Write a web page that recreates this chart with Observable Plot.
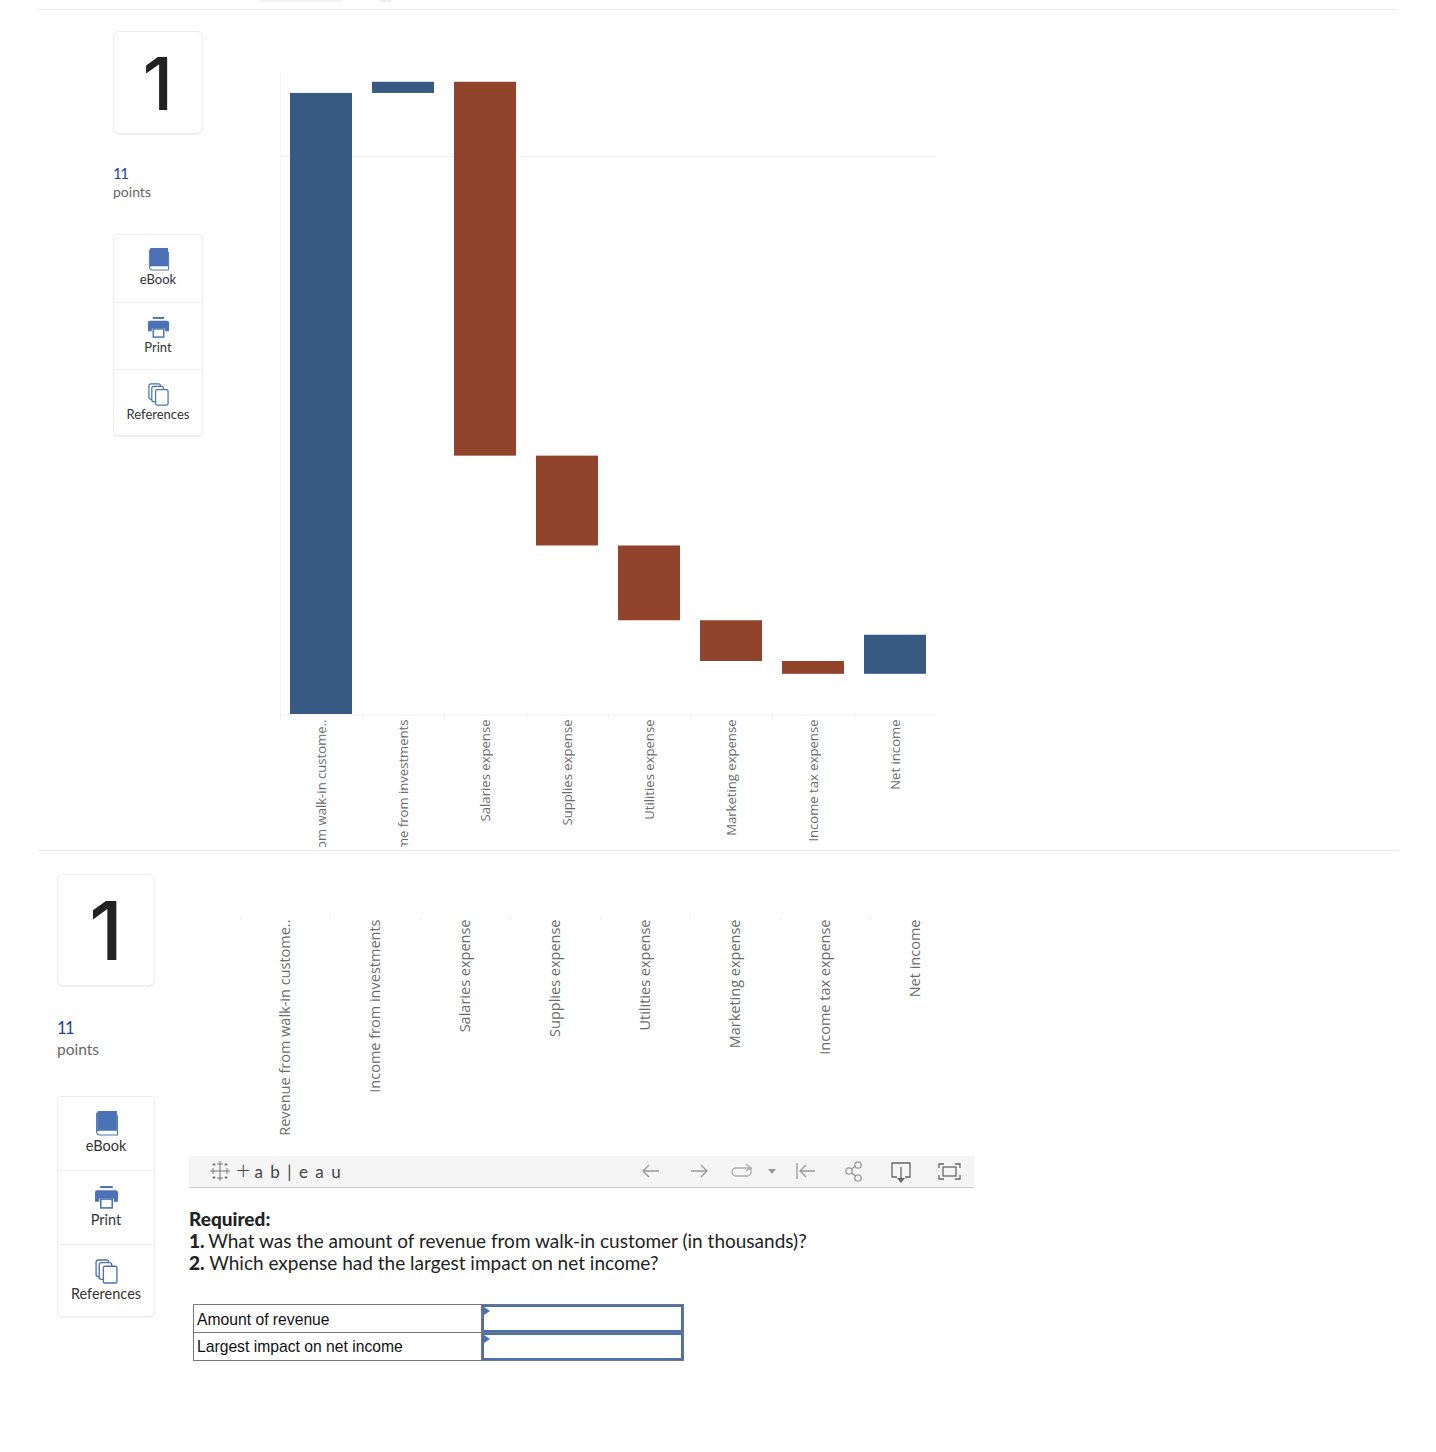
<!DOCTYPE html>
<html>
<head>
<meta charset="utf-8">
<script src="https://cdn.jsdelivr.net/npm/d3@7"></script>
<script src="https://cdn.jsdelivr.net/npm/@observablehq/plot@0.6"></script>
<style>
  html, body { margin: 0; padding: 0; background: #fff; }
  body { position: relative; width: 1436px; height: 1452px; overflow: hidden; font-family: Lato, sans-serif; color: #222; }
  .abs { position: absolute; }
  .hr { position: absolute; left: 38px; width: 1360px; height: 1px; background: #ececec; }
  .card { position: absolute; box-sizing: border-box; background: #fff; border: 1px solid #eee; border-radius: 6px; box-shadow: 0 1px 1px #f2f2f2; text-align: center; }
  .tools { position: absolute; box-sizing: border-box; border: 1px solid #eee; border-radius: 4px; box-shadow: 0 1px 1px #f2f2f2; }
  .tool { position: absolute; left: 0; width: 100%; text-align: center; color: #333; }
  .tool + .tool { border-top: 1px solid #eee; }
  .tool svg { display: block; margin: 0 auto; }
  #req { position: absolute; left: 189px; top: 1208px; font-size: 19px; line-height: 22px; color: #222; }
  #req b { font-weight: 900; }
  #req i { font-style: normal; margin-left: -1px; }
  #tbl { position: absolute; left: 193px; top: 1304px; width: 491px; height: 57px; box-sizing: border-box; border: 1px solid #777; font-family: "Liberation Sans", sans-serif; font-size: 15.7px; color: #111; }
  .cellL { position: absolute; left: 3px; }
  .cellR { position: absolute; left: 288px; width: 201px; height: 27px; box-sizing: border-box; border: 2px solid #4a70ad; }
  .cellR::before { content: ""; position: absolute; left: 0; top: 0; border-left: 6px solid #4a70ad; border-top: 4px solid transparent; border-bottom: 4px solid transparent; }
</style>
</head>
<body>
<div id="chrome"></div>
<div id="chart1" class="abs" style="left:0;top:0"></div>
<div id="chart2" class="abs" style="left:0;top:900px"></div>
<script>
// bars of the waterfall (gridline = 1000)
const categories = ["Revenue from walk-in custome..", "Income from investments", "Salaries expense", "Supplies expense", "Utilities expense", "Marketing expense", "Income tax expense", "Net income"]
const barFrom = [0, 1113, 1133, 463, 302, 168, 95, 72]
const barTo = [1113, 1133, 463, 302, 168, 95, 72, 142]
const barKind = ["gain", "gain", "loss", "loss", "loss", "loss", "loss", "gain"]
const gridValues = [1000]

const bars = categories.map((c, i) => ({ category: c, from: barFrom[i], to: barTo[i], kind: barKind[i] }))

const chart = Plot.plot({
  width: 1436,
  height: 847,
  marginLeft: 280,
  marginRight: 500,
  marginTop: 72,
  marginBottom: 133,
  style: { fontFamily: "Open Sans", background: "transparent" },
  x: { type: "band", domain: categories, paddingInner: 0.25, paddingOuter: 0.125 },
  y: { domain: [0, 1150.5], axis: null },
  color: { domain: ["gain", "loss"], range: ["#375a85", "#91432b"] },
  marks: [
    Plot.ruleY(gridValues, { stroke: "#f1f1f1" }),
    Plot.ruleY([0], { stroke: "#f1f1f1", dy: 0.5 }),
    Plot.frame({ anchor: "left", stroke: "#f6f6f6" }),
    Plot.barY(bars, { x: "category", y1: "from", y2: "to", fill: "kind" }),
    Plot.axisX({ tickSize: 5, tickFormat: () => "", dx: -41, stroke: "#eeeeee", label: null }),
    Plot.axisX({ tickSize: 0, tickRotate: -90, tickPadding: 5, fontSize: 13.1, fill: "#6b6b6b", label: null })
  ]
})
document.getElementById("chart1").append(chart)

// the second screenshot only shows the axis of the same chart
const axisOnly = Plot.plot({
  width: 1436,
  height: 240,
  marginLeft: 240,
  marginRight: 476,
  marginTop: 17,
  marginBottom: 223,
  style: { fontFamily: "Open Sans", background: "transparent" },
  x: { type: "band", domain: categories, paddingInner: 0.25, paddingOuter: 0.125 },
  marks: [
    Plot.axisX({ tickSize: 3, tickFormat: () => "", dx: -45, stroke: "#eeeeee", label: null }),
    Plot.axisX({ tickSize: 0, tickRotate: -90, tickPadding: 2, fontSize: 14.5, fill: "#6b6b6b", label: null })
  ]
})
document.getElementById("chart2").append(axisOnly)

// page furniture around the chart
const blue = "#4a72b5"
const book = s => `<svg width="${s}" height="${s}" viewBox="0 0 24 24"><path d="M4 0h18v19H5.5A3 3 0 0 0 3 20V1z" fill="${blue}"/><path d="M2.500 2v18a3 3 0 0 0 3 3h17V4" fill="none" stroke="${blue}" stroke-width="1"/></svg>`
const printer = s => `<svg width="${s}" height="${s}" viewBox="0 0 24 24"><rect x="6" y="1" width="12" height="2" fill="${blue}"/><path d="M3 5h18a2 2 0 0 1 2 2v9h-4v-3H5v3H1V7a2 2 0 0 1 2-2z" fill="${blue}"/><rect x="6.500" y="13.500" width="11" height="8.500" fill="#fff" stroke="${blue}" stroke-width="1.500"/></svg>`
const pages = s => `<svg width="${s}" height="${s}" viewBox="0 0 24 24" fill="#fff" stroke="${blue}" stroke-width="1.300"><rect x="2" y="1" width="12" height="16" rx="2"/><rect x="5" y="3.500" width="12" height="16" rx="2"/><rect x="9" y="7" width="13" height="16" rx="1.500"/></svg>`

function sidebar(o) {
  const items = [["eBook", book], ["Print", printer], ["References", pages]]
  const rows = items.map(([name, icon], i) =>
    `<div class="tool" style="top:${i * o.row}px;height:${o.row}px;font-size:${o.fs}px;padding-top:${o.pad}px;box-sizing:border-box">${icon(o.icon)}<div style="margin-top:${o.gap}px">${name}</div></div>`).join("")
  return `<div class="card" style="left:${o.x}px;top:${o.y}px;width:${o.w}px;height:${o.h}px;font:500 ${o.num}px/${o.h + 1}px Inter,sans-serif;color:#222">1</div>
  <div class="abs" style="left:${o.x}px;top:${o.py}px;font-size:${o.pfs}px;line-height:${o.pl}px;color:#666"><span style="color:#1d4294;letter-spacing:-1.500px;font-size:${o.pfs + 1}px">11</span><br>points</div>
  <div class="tools" style="left:${o.x}px;top:${o.ty}px;width:${o.w}px;height:${o.row * 3 + 1}px">${rows}</div>`
}

const toolbar = `<div class="abs" style="left:189px;top:1156px;width:785px;height:31px;background:#f5f5f5;border-bottom:1.500px solid #ccc"></div>
<svg class="abs" style="left:189px;top:1156px" width="785" height="32" fill="none" stroke="#999" stroke-width="1.300">
  <path d="M31 5v6M28 8h6M31 19v6M28 22h6M24 12v6M21 15h6M38 12v6M35 15h6M31 11v8M27 15h8M25 7v3M23.500 8.500h3M37 7v3M35.500 8.500h3M25 20v3M23.500 21.500h3M37 20v3M35.500 21.500h3" stroke="#777" stroke-width="1"/>
  <path d="M470 15h-16M460 9l-6 6 6 6M518 15h-16M512 9l6 6-6 6"/>
  <path d="M562 12h-15a4 4 0 0 0 0 8h11a4 4 0 0 0 4-4v-4M557 8l5 4-5 3" stroke="#aaa"/><path d="M579 13h8l-4 5z" fill="#999" stroke="none"/>
  <path d="M608 7v16M626 15h-15M617 9l-6 6 6 6"/>
  <circle cx="660" cy="15" r="3.200"/><circle cx="669" cy="9" r="3.200"/><circle cx="669" cy="22" r="3.200"/><path d="M663 13l3-3M663 17l3 3"/>
  <path d="M708 21h-5V7h18v14h-5M712 11v13" stroke="#666"/><path d="M708 22h8l-4 5z" fill="#666" stroke="none"/>
  <path d="M750 12V8h5M766 8h5v4M771 19v4h-5M755 23h-5v-4" stroke="#666"/><rect x="754" y="11" width="13" height="9" stroke="#666"/>
</svg>
<div class="abs" style="left:236px;top:1155px;font:300 25px/28px Lato,sans-serif;color:#444">+<span style="font-size:17px;font-weight:400;letter-spacing:7.400px;margin-left:4px;position:relative;top:-1px">ab|eau</span></div>`

document.getElementById("chrome").innerHTML = `
<div class="abs" style="left:260px;top:0;width:82px;height:2px;background:#f2f2f2"></div>
<div class="abs" style="left:380px;top:0;width:11px;height:2px;background:#eee"></div>
<div class="hr" style="top:9px"></div>
<div class="hr" style="top:850px"></div>
${sidebar({ x: 113, y: 31, w: 90, h: 103, num: 73, py: 164, pl: 18, pfs: 14, fs: 13, ty: 234, row: 67, icon: 23, pad: 13, gap: 0 })}
${sidebar({ x: 57, y: 874, w: 98, h: 112, num: 81, py: 1018, pl: 20.500, pfs: 15.500, fs: 14.500, ty: 1096, row: 73.300, icon: 25, pad: 14, gap: 1 })}
${toolbar}
<div id="req"><b>Required:</b><br><b>1.</b><i> What was the amount of revenue from walk-in customer (in thousands)?</i><br><b>2.</b> Which expense had the largest impact on net income?</div>
<div id="tbl">
  <div class="abs" style="left:287px;top:0;bottom:0;width:1px;background:#777"></div>
  <div class="abs" style="left:0;right:0;top:27px;height:1px;background:#777"></div>
  <div class="cellL" style="top:6px">Amount of revenue</div>
  <div class="cellL" style="top:33px">Largest impact on net income</div>
  <div class="cellR" style="top:0"></div>
  <div class="cellR" style="top:28px"></div>
</div>`
</script>
</body>
</html>
